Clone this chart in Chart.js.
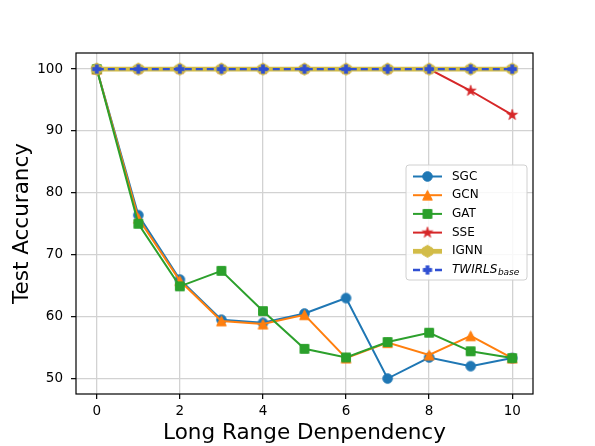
<!DOCTYPE html>
<html>
<head>
<meta charset="utf-8">
<script src="https://cdn.jsdelivr.net/npm/chart.js@4/dist/chart.umd.min.js"></script>
<style>
  html, body { margin: 0; padding: 0; background: #fff; }
  #wrap { width: 595px; height: 446px; position: relative; }
</style>
</head>
<body>
<div id="wrap"><canvas id="c" width="595" height="446"></canvas></div>
<script>
// ---- data ----
const xValues = [0, 1, 2, 3, 4, 5, 6, 7, 8, 9, 10];
const xTicks = [0, 2, 4, 6, 8, 10];
const yTicks = [50, 60, 70, 80, 90, 100];
const seriesNames = ['SGC', 'GCN', 'GAT', 'SSE', 'IGNN', 'TWIRLS'];
const sgc    = [100, 76.4, 66.0, 59.5, 59.0, 60.5, 63.0, 50.0, 53.4, 52.0, 53.3];
const gcn    = [100, 75.9, 65.8, 59.3, 58.8, 60.3, 53.3, 55.8, 53.8, 56.9, 53.3];
const gat    = [100, 75.0, 64.9, 67.4, 60.9, 54.8, 53.4, 55.9, 57.4, 54.4, 53.3];
const sse    = [100, 100, 100, 100, 100, 100, 100, 100, 100, 96.5, 92.6];
const ignn   = [100, 100, 100, 100, 100, 100, 100, 100, 100, 100, 100];
const twirls = [100, 100, 100, 100, 100, 100, 100, 100, 100, 100, 100];
const xLabel = 'Long Range Denpendency';
const yLabel = 'Test Accurancy';

// ---- marker images ----
function shapePath(g, shape, cx, cy, r) {
  g.beginPath();
  if (shape === 'circle') {
    g.arc(cx, cy, r, 0, Math.PI * 2);
  } else if (shape === 'triangle') {
    g.moveTo(cx, cy - r); g.lineTo(cx + r, cy + r); g.lineTo(cx - r, cy + r); g.closePath();
  } else if (shape === 'square') {
    g.rect(cx - r, cy - r, 2 * r, 2 * r);
  } else if (shape === 'star') {
    for (let i = 0; i < 10; i++) {
      const a = -Math.PI / 2 + i * Math.PI / 5;
      const rr = i % 2 === 0 ? r : r * 0.382;
      const px = cx + rr * Math.cos(a), py = cy + rr * Math.sin(a);
      if (i === 0) g.moveTo(px, py); else g.lineTo(px, py);
    }
    g.closePath();
  } else if (shape === 'hexagon') {
    for (let i = 0; i < 6; i++) {
      const a = -Math.PI / 2 + i * Math.PI / 3;
      const px = cx + r * Math.cos(a), py = cy + r * Math.sin(a);
      if (i === 0) g.moveTo(px, py); else g.lineTo(px, py);
    }
    g.closePath();
  } else if (shape === 'plus') {
    const w = r / 2.6;
    g.moveTo(cx - w, cy - r); g.lineTo(cx + w, cy - r); g.lineTo(cx + w, cy - w);
    g.lineTo(cx + r, cy - w); g.lineTo(cx + r, cy + w); g.lineTo(cx + w, cy + w);
    g.lineTo(cx + w, cy + r); g.lineTo(cx - w, cy + r); g.lineTo(cx - w, cy + w);
    g.lineTo(cx - r, cy + w); g.lineTo(cx - r, cy - w); g.lineTo(cx - w, cy - w);
    g.closePath();
  }
}
function makeMarker(shape, r, fill, edge, ew) {
  const s = Math.ceil(2 * r + ew + 4);
  const c = document.createElement('canvas');
  c.width = s; c.height = s;
  const g = c.getContext('2d');
  shapePath(g, shape, s / 2, s / 2, r);
  g.fillStyle = fill; g.fill();
  if (ew) { g.lineWidth = ew; g.strokeStyle = edge; g.lineJoin = 'miter'; g.stroke(); }
  return c;
}

const colors = ['#1f77b4', '#ff7f0e', '#2ca02c', '#d62728', '#d2bc48', '#2f4fd2'];
const markers = [
  makeMarker('circle', 4.8, colors[0], colors[0], 1),
  makeMarker('triangle', 4.8, colors[1], colors[1], 1),
  makeMarker('square', 4.4, colors[2], colors[2], 1),
  makeMarker('star', 5.6, colors[3], colors[3], 0.8),
  makeMarker('hexagon', 6, colors[4], colors[4], 1),
  makeMarker('plus', 4.3, colors[5], colors[5], 0.6)
];
const lineWidths = [2, 2, 2, 2, 4.8, 2.4];
const dashes = [[], [], [], [], [], [7, 4]];
const allSeries = [sgc, gcn, gat, sse, ignn, twirls];

const datasets = allSeries.map((vals, i) => ({
  label: seriesNames[i],
  data: xValues.map((x, j) => ({ x: x, y: vals[j] })),
  borderColor: colors[i],
  backgroundColor: colors[i],
  borderWidth: lineWidths[i],
  borderDash: dashes[i],
  pointStyle: markers[i],
  pointRadius: 5,
  pointHoverRadius: 5,
  tension: 0,
  fill: false,
  order: 6 - i
}));

// ---- plugins: frame + legend ----
const framePlugin = {
  id: 'frame',
  afterDatasetsDraw(chart) {
    const { ctx, chartArea: a } = chart;
    ctx.save();
    ctx.strokeStyle = '#000';
    ctx.lineWidth = 1.2;
    ctx.strokeRect(a.left, a.top, a.right - a.left, a.bottom - a.top);
    ctx.restore();
  }
};

const legendPlugin = {
  id: 'mplLegend',
  afterDraw(chart) {
    const ctx = chart.ctx;
    const bx = 406, by = 165, bw = 121, bh = 115, rad = 3;
    ctx.save();
    ctx.beginPath();
    ctx.moveTo(bx + rad, by);
    ctx.arcTo(bx + bw, by, bx + bw, by + bh, rad);
    ctx.arcTo(bx + bw, by + bh, bx, by + bh, rad);
    ctx.arcTo(bx, by + bh, bx, by, rad);
    ctx.arcTo(bx, by, bx + bw, by, rad);
    ctx.closePath();
    ctx.fillStyle = 'rgba(255,255,255,0.85)';
    ctx.fill();
    ctx.strokeStyle = '#d0d0d0';
    ctx.lineWidth = 1;
    ctx.stroke();

    const rowH = 18.7;
    const y0 = 176.5;
    const lx0 = 413, lx1 = 442, tx = 452;
    for (let i = 0; i < seriesNames.length; i++) {
      const y = y0 + i * rowH;
      ctx.beginPath();
      ctx.setLineDash(dashes[i]);
      ctx.strokeStyle = colors[i];
      ctx.lineWidth = lineWidths[i];
      ctx.moveTo(lx0, y); ctx.lineTo(lx1, y);
      ctx.stroke();
      ctx.setLineDash([]);
      const m = markers[i];
      ctx.drawImage(m, (lx0 + lx1) / 2 - m.width / 2, y - m.height / 2);
      ctx.fillStyle = '#000';
      ctx.textBaseline = 'middle';
      ctx.textAlign = 'left';
      if (i === 5) {
        ctx.font = 'italic 12px "DejaVu Sans"';
        ctx.fillText('TWIRLS', tx, y);
        const w = ctx.measureText('TWIRLS').width;
        ctx.font = 'italic 9px "DejaVu Sans"';
        ctx.fillText('base', tx + w + 0.5, y + 3);
      } else {
        ctx.font = '12px "DejaVu Sans"';
        ctx.fillText(seriesNames[i], tx, y);
      }
    }
    ctx.restore();
  }
};

const tickFont = { family: 'DejaVu Sans', size: 13.5 };
const titleFont = { family: 'DejaVu Sans', size: 21.5 };
const gridCfg = { color: '#d2d2d2', lineWidth: 1.3, tickLength: 5, tickColor: '#000', tickWidth: 1.2, drawTicks: true };

new Chart(document.getElementById('c'), {
  type: 'line',
  data: { datasets: datasets },
  options: {
    responsive: false,
    animation: false,
    devicePixelRatio: window.devicePixelRatio || 1,
    layout: { padding: { top: 53, right: 62, left: 0, bottom: 0 } },
    plugins: { legend: { display: false }, tooltip: { enabled: false } },
    scales: {
      x: {
        type: 'linear',
        min: -0.5, max: 10.5,
        afterBuildTicks: s => { s.ticks = xTicks.map(v => ({ value: v })); },
        afterFit: s => { s.height = 52; },
        ticks: { font: tickFont, color: '#000', padding: 4, maxRotation: 0, autoSkip: false },
        grid: gridCfg,
        border: { display: false },
        title: { display: true, text: xLabel, font: titleFont, color: '#000', padding: { top: 0, bottom: 0 } }
      },
      y: {
        type: 'linear',
        min: 47.5, max: 102.6,
        afterBuildTicks: s => { s.ticks = yTicks.map(v => ({ value: v })); },
        afterFit: s => { s.width = 76; },
        ticks: { font: tickFont, color: '#000', padding: 8, autoSkip: false },
        grid: gridCfg,
        border: { display: false },
        title: { display: true, text: yLabel, font: titleFont, color: '#000', padding: { top: 10, bottom: 0 } }
      }
    }
  },
  plugins: [framePlugin, legendPlugin]
});
</script>
</body>
</html>
